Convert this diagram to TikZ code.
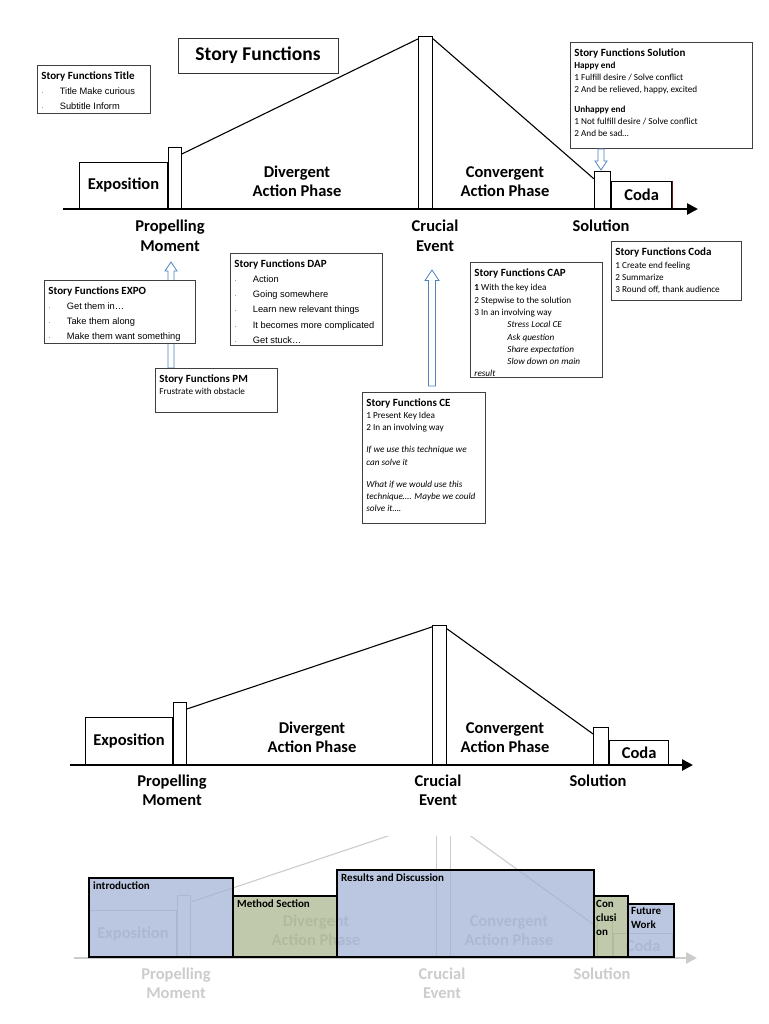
\documentclass[tikz,border=0pt]{standalone}
\usepackage{fontspec}
\setmainfont{Carlito}
\newfontfamily\arialfont{Liberation Sans}
\usetikzlibrary{arrows.meta,calc,shadows}

\definecolor{arrowblue}{RGB}{79,129,189}
\definecolor{codared}{RGB}{110,20,20}
\definecolor{paperblue}{RGB}{159,176,211}
\definecolor{papergreen}{RGB}{167,179,138}
\colorlet{arcink}{black}

\newcommand\sfhead[1]{{\fontsize{11}{13}\selectfont\bfseries #1}}
\newcommand\sfbul[1]{\makebox[18.5pt][l]{\arialfont\fontsize{6}{6}\selectfont ·}{\arialfont #1}}

% hollow block arrow, [half shaft]{tail}{tip}, vertical only
\newcommand\hollowarrow[3][3]{%
  \coordinate (hb) at ($(#3)!3*#1pt!(#2)$);
  \draw[hollow] ([xshift=-#1pt]#2) -- ([xshift=-#1pt]hb) -- ([xshift=-2*#1pt]hb) -- (#3)
    -- ([xshift=2*#1pt]hb) -- ([xshift=#1pt]hb) -- ([xshift=#1pt]#2) -- cycle;}

% the story arc, axis at y=0
\newcommand\storyarc{%
  \coordinate (ax0) at (70,0);
  \coordinate (ax1) at (693,0);
  \node[pillar, minimum width=13pt, minimum height=62pt] (pm) at (173,0) {};
  \node[pillar, minimum width=14pt, minimum height=139pt] (crux) at (432,0) {};
  \node[pillar, minimum width=15pt, minimum height=37pt] (sol) at (593,0) {};
  \node[phase, anchor=south east, minimum width=87pt, minimum height=47pt] (expo) at (pm.south west) {Exposition};
  \node[phase, anchor=south west, minimum width=59pt, minimum height=24pt] (coda) at (sol.south east) {Coda};
  \draw[arcline] ([yshift=-7pt]pm.north east) -- ([yshift=-2pt]crux.north west);
  \draw[arcline] ([yshift=-4pt]crux.north east) -- ([yshift=-7pt]sol.north west);
  \draw[timeline] (ax0) -- (ax1);
  \node[phaselabel] (div) at (312,-27.5) {Divergent\\Action Phase};
  \node[phaselabel] (conv) at (505,-27.5) {Convergent\\Action Phase};
  \node[phaselabel] (prop) at (172,25.5) {Propelling\\Moment};
  \node[phaselabel] (cru) at (438,25.5) {Crucial\\Event};
  \node[phaselabel] (soltxt) at (598,16) {Solution};}

\tikzset{
  timeline/.style={draw=arcink, line width=2.6pt, -{Triangle[length=11pt,width=11pt]}},
  pillar/.style={draw=arcink, fill=white, line width=1.1pt, inner sep=0pt, anchor=south west},
  phase/.style={draw=arcink, fill=white, line width=1.1pt, inner sep=0pt, text=arcink, font=\fontsize{16.5}{19.5}\selectfont\bfseries},
  phaselabel/.style={text=arcink, align=center, inner sep=0pt, font=\fontsize{16.5}{19.5}\selectfont\bfseries},
  arcline/.style={draw=arcink, line width=1.1pt},
  sfbox/.style={draw=black!75, line width=0.7pt, fill=white, anchor=north west, inner xsep=4pt, inner ysep=6pt,
    font=\fontsize{9.2}{12.3}\selectfont, drop shadow={shadow xshift=1pt, shadow yshift=-1pt, opacity=0.35}},
  bulbox/.style={sfbox, font=\fontsize{9.3}{15.3}\selectfont},
  hollow/.style={draw=arrowblue, fill=white, line width=0.8pt},
  paper/.style={draw=black, line width=2.4pt, fill opacity=0.7, anchor=south west, inner sep=0pt},
  paperlabel/.style={anchor=north west, inner xsep=5pt, inner ysep=5pt, align=left, font=\fontsize{11}{14}\selectfont\bfseries}
}

\begin{document}
\begin{tikzpicture}[x=1pt,y=-1pt]
\useasboundingbox (0,0) rectangle (768,1024);
\fill[white] (0,0) rectangle (768,1024);

% --- top: story functions ---
\node[draw=black!80, line width=0.8pt, minimum width=160pt, minimum height=35pt,
  font=\fontsize{19.5}{23}\selectfont\bfseries] (heading) at (258,55.5) {Story Functions};

\coordinate (tl0) at (63,209);
\coordinate (tl1) at (698,209);
\node[pillar, minimum width=13pt, minimum height=61pt] (pmtop) at (168,209) {};
\node[pillar, minimum width=14pt, minimum height=172pt] (cruxtop) at (418,209) {};
\node[pillar, minimum width=16pt, minimum height=37pt] (soltop) at (594,209) {};
\node[phase, anchor=south east, minimum width=88pt, minimum height=46pt] (expotop) at (pmtop.south west) {Exposition};
\node[phase, anchor=south west, minimum width=60pt, minimum height=27pt] (codatop) at (soltop.south east) {Coda};
\draw[codared, line width=1.1pt] (codatop.north east) -- (codatop.south east);
\draw[arcline] ([yshift=-7pt]pmtop.north east) -- ([yshift=-3pt]cruxtop.north west);
\draw[arcline] ([yshift=-3pt]cruxtop.north east) -- ([yshift=-8pt]soltop.north west);
\draw[timeline] (tl0) -- (tl1);

\node[phaselabel] (divtop) at (297,181.5) {Divergent\\Action Phase};
\node[phaselabel] (convtop) at (505,181.5) {Convergent\\Action Phase};
\node[phaselabel] (proptop) at (170,236) {Propelling\\Moment};
\node[phaselabel] (crutop) at (435,236) {Crucial\\Event};
\node[phaselabel] (soltxttop) at (601,226) {Solution};

\node[bulbox] (titlebox) at (37,65) {\parbox[t][36pt][t]{105pt}{\sfhead{Story Functions Title}\\
  \sfbul{Title Make curious}\\ \sfbul{Subtitle Inform}}};

\node[sfbox] (solbox) at (570,42) {\parbox[t][94pt][t]{174pt}{\sfhead{Story Functions Solution}\\
  \textbf{Happy end}\\ 1 Fulfill desire / Solve conflict\\ 2 And be relieved, happy, excited\\[7pt]
  \textbf{Unhappy end}\\ 1 Not fulfill desire / Solve conflict\\ 2 And be sad…}};
\coordinate (soltail) at (601,149);
\coordinate (soltip) at (601,170);
\hollowarrow{soltail}{soltip}

\coordinate (pmtail) at (171,368);
\coordinate (pmtip) at (171,262);
\hollowarrow{pmtail}{pmtip}
\coordinate (cetail) at (432,386);
\coordinate (cetip) at (432,270);
\hollowarrow[3.5]{cetail}{cetip}

\node[bulbox] (expobox) at (44,280) {\parbox[t][51pt][t]{143pt}{\sfhead{Story Functions EXPO}\\
  \sfbul{Get them in…}\\ \sfbul{Take them along}\\ \sfbul{Make them want something}}};
\node[bulbox] (dapbox) at (230,253) {\parbox[t][80pt][t]{144pt}{\sfhead{Story Functions DAP}\\
  \sfbul{Action}\\ \sfbul{Going somewhere}\\ \sfbul{Learn new relevant things}\\
  \sfbul{It becomes more complicated}\\ \sfbul{Get stuck…}}};
\node[sfbox] (pmbox) at (155,368) {\parbox[t][32pt][t]{114pt}{\sfhead{Story Functions PM}\\
  Frustrate with obstacle}};
\node[sfbox] (capbox) at (470,262) {\parbox[t][103pt][t]{124pt}{\sfhead{Story Functions CAP}\\[2.5pt]
  \textbf{1} With the key idea\\ 2 Stepwise to the solution\\ 3 In an involving way\\
  \hspace*{33pt}\textit{Stress Local CE}\\ \hspace*{33pt}\textit{Ask question}\\
  \hspace*{33pt}\textit{Share expectation}\\ \hspace*{33pt}\textit{Slow down on main}\\ \textit{result}}};
\node[sfbox] (cebox) at (362,392) {\parbox[t][119pt][t]{115pt}{\sfhead{Story Functions CE}\\
  1 Present Key Idea\\ 2 In an involving way\\[10pt]
  \textit{If we use this technique we}\\ \textit{can solve it}\\[9.5pt]
  \textit{What if we would use this}\\ \textit{technique…. Maybe we could}\\ \textit{solve it….}}};
\node[sfbox] (codabox) at (611,241) {\parbox[t][47pt][t]{122pt}{\sfhead{Story Functions Coda}\\[1pt]
  1 Create end feeling\\ 2 Summarize\\ 3 Round off, thank audience}};

% --- middle: the plain arc ---
\begin{scope}[shift={(0,765)}]
  \storyarc
\end{scope}

% --- bottom: paper sections over a faded arc ---
\begin{scope}
  \clip (0,836) rectangle (768,1024);
  \begin{scope}[shift={(4,958)}]
    \colorlet{arcink}{black!20}
    \storyarc
  \end{scope}
\end{scope}

\node[paper, fill=paperblue, minimum width=144pt, minimum height=79pt] (intro) at (88,958) {};
\node[paperlabel] (introtxt) at (intro.north west) {introduction};
\node[paper, fill=papergreen, minimum width=104pt, minimum height=61pt] (method) at (232,958) {};
\node[paperlabel] (methodtxt) at (method.north west) {Method Section};
\node[paper, fill=paperblue, minimum width=257pt, minimum height=87pt] (results) at (336,958) {};
\node[paperlabel] (resultstxt) at (results.north west) {Results and Discussion};
\node[paper, fill=papergreen, minimum width=34pt, minimum height=61pt] (concl) at (593,958) {};
\node[paperlabel, inner xsep=3pt] (concltxt) at (concl.north west) {Con\\clusi\\on};
\node[paper, fill=paperblue, minimum width=46pt, minimum height=53pt] (future) at (627,958) {};
\node[paperlabel, inner xsep=4pt] (futuretxt) at (future.north west) {Future\\Work};

\end{tikzpicture}
\end{document}
